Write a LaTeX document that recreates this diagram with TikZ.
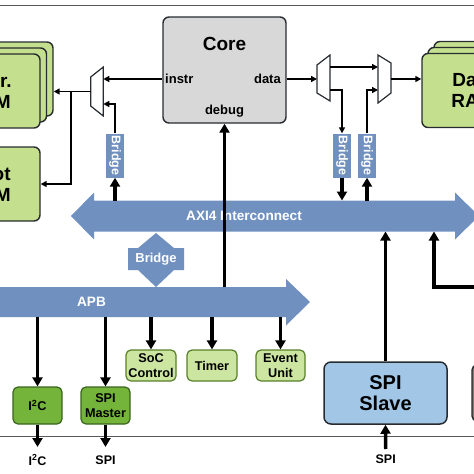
\documentclass[tikz,border=0pt]{standalone}
\usepackage{fontspec}
\setmainfont{Liberation Sans}
\usepackage{graphicx}
\usepackage{tikz}
\usepackage{xcolor}
\usetikzlibrary{positioning, arrows.meta}

\definecolor{busblue}{RGB}{112,144,192}
\definecolor{coregray}{RGB}{216,216,216}
\definecolor{ramgreen}{RGB}{196,224,142}
\definecolor{perigreen}{RGB}{204,229,160}
\definecolor{periedge}{RGB}{88,128,40}
\definecolor{iogreen}{RGB}{116,180,58}
\definecolor{ioedge}{RGB}{58,100,28}
\definecolor{slaveblue}{RGB}{162,199,230}
\definecolor{brownbox}{RGB}{134,116,112}
\definecolor{edge}{RGB}{40,44,48}

\begin{document}
\begin{tikzpicture}[x=1pt, y=-1pt,
        wire/.style={line width=1.5pt, -{Triangle[length=6pt, width=6pt]}},
        bus/.style={line width=3.4pt, -{Triangle[length=9pt, width=10pt]}},
        mux/.style={draw=edge, line width=1.2pt, fill=white},
        ram/.style={draw=edge, line width=1.4pt, fill=ramgreen, rounded corners=6pt, minimum width=102pt, minimum height=74pt, inner sep=0pt, align=center, font=\fontsize{19}{21}\selectfont\bfseries},
        vbridge/.style={fill=busblue, minimum width=18pt, minimum height=44pt, inner sep=0pt, text=white, font=\fontsize{12.5}{14}\selectfont\bfseries},
        port/.style={inner sep=0pt, font=\fontsize{13}{15}\selectfont\bfseries},
        peri/.style={draw=periedge, line width=1.2pt, fill=perigreen, rounded corners=5pt, minimum width=50pt, minimum height=31pt, inner sep=0pt, align=center, font=\fontsize{12.7}{14.5}\selectfont\bfseries},
        io/.style={draw=ioedge, line width=1.2pt, fill=iogreen, rounded corners=5pt, minimum width=49pt, minimum height=37pt, inner sep=0pt, align=center, font=\fontsize{12.7}{14.5}\selectfont\bfseries},
        pinlabel/.style={font=\fontsize{12.5}{14}\selectfont\bfseries},
        buslabel/.style={text=white, font=\fontsize{13.6}{15}\selectfont\bfseries}]
        \useasboundingbox (0,0) rectangle (474,474);

        % frame lines
        \draw[line width=1pt, black!65] (-5,5) -- (480,5)
            (-5,436) -- (480,436);

        % buses
        \fill[busblue] (71,216) -- (94,192.5) -- (94,200.5) -- (455,200.5) -- (455,192.5) -- (479,216)
            -- (455,239.5) -- (455,231.5) -- (94,231.5) -- (94,239.5) -- cycle;
        \fill[busblue] (-5,287) -- (286,287) -- (286,279) -- (310,302) -- (286,325.5) -- (286,317) -- (-5,317) -- cycle;
        \fill[busblue] (156,233) -- (174,248) -- (184,248) -- (184,270) -- (174,270) -- (156,287)
            -- (138,270) -- (128,270) -- (128,248) -- (138,248) -- cycle;
        \node[buslabel] (axi) at (244,216) {AXI4 Interconnect};
        \node[buslabel] (apb) at (91.5,302) {APB};
        \node[buslabel, font=\fontsize{13}{15}\selectfont\bfseries] (abridge) at (156,259) {Bridge};
        \coordinate (axitop) at (0,200.5);
        \coordinate (axibot) at (0,231.5);
        \coordinate (apbtop) at (0,287);
        \coordinate (apbbot) at (0,317);

        % core
        \node[draw=edge, line width=1.4pt, fill=coregray, rounded corners=6pt, minimum width=123pt, minimum height=106pt] (core) at (224.5,70) {};
        \node[font=\fontsize{19}{21}\selectfont\bfseries] (corename) at (224.5,44) {Core};
        \node[port, anchor=west] (instr) at (165,79) {instr};
        \node[port, anchor=east] (data) at (281,79) {data};
        \node[port] (debug) at (224.5,111) {debug};

        % memories
        \node[ram] (iram3) at (2,79) {};
        \node[ram] (iram2) at (-4.5,85) {};
        \node[ram] (iram) at (-11,91) {Instr.\\RAM};
        \node[ram] (bram) at (-11,184) {Boot\\RAM};
        \node[ram] (dram3) at (485,78.5) {};
        \node[ram] (dram2) at (479,84.5) {};
        \node[ram] (dram) at (473,90.5) {Data\\RAM};

        % multiplexers
        \draw[mux] (90.7,77) -- (103.3,67) -- (103.3,116) -- (90.7,106) -- cycle;
        \draw[mux] (317,65) -- (330,55) -- (330,101) -- (317,93) -- cycle;
        \draw[mux] (378,55) -- (391,63) -- (391,93) -- (378,103) -- cycle;
        \coordinate (imuxout) at (90.7,91.5);
        \coordinate (imuxa) at (103.3,79);
        \coordinate (imuxb) at (103.3,104);
        \coordinate (isplit) at (71,91.5);
        \coordinate (dmuxin) at (317,79);
        \coordinate (dmuxa) at (330,67);
        \coordinate (dmuxb) at (330,90);
        \coordinate (omuxa) at (378,67);
        \coordinate (omuxb) at (378,90);
        \coordinate (omuxout) at (391,79);

        % bridges
        \node[vbridge] (ibridge) at (115,155.5) {\rotatebox{-90}{Bridge}};
        \node[vbridge] (dbridge) at (342,155.5) {\rotatebox{-90}{Bridge}};
        \node[vbridge] (rbridge) at (367,155.5) {\rotatebox{-90}{Bridge}};

        % peripherals
        \node[peri] (soc) at (151,365.5) {SoC\\Control};
        \node[peri] (timer) at (212,365.5) {Timer};
        \node[peri, minimum width=49pt] (evu) at (280.5,365.5) {Event\\Unit};
        \node[io] (i2c) at (37.5,405.5) {I\textsuperscript{2}C};
        \node[io] (spim) at (105.5,405.5) {SPI\\Master};
        \node[draw=edge, line width=1.5pt, fill=slaveblue, rounded corners=7pt, minimum width=123pt, minimum height=62pt, align=center, font=\fontsize{20}{21}\selectfont\bfseries] (slave) at (385.5,393) {SPI\\Slave};
        \node[draw=edge, line width=1.4pt, fill=brownbox, rounded corners=5pt, minimum width=56pt, minimum height=56pt] (ext) at (500,393) {};

        % pins
        \coordinate (i2cpin) at (37.5,447);
        \coordinate (spimpin) at (105.5,447);
        \coordinate (spispin) at (385.7,449);
        \node[pinlabel, below=4pt of i2cpin] (i2cname) {I\textsuperscript{2}C};
        \node[pinlabel, below=5pt of spimpin] (spimname) {SPI};
        \node[pinlabel, below=2pt of spispin] (spisname) {SPI};

        % instruction side
        \draw[wire] (core.west |- instr) to (imuxa);
        \draw[wire] (ibridge.north) |- (imuxb);
        \draw[wire] (imuxout) to (iram3.east |- imuxout);
        \draw[wire] (isplit) |- (bram.east);

        % data side
        \draw[wire] (core.east |- data) to (dmuxin);
        \draw[wire] (dmuxa) to (omuxa);
        \draw[wire] (dmuxb) -| (dbridge.north);
        \draw[wire] (rbridge.north) |- (omuxb);
        \draw[wire] (omuxout) to (dram.west |- omuxout);

        % bus links
        \draw[bus] (ibridge |- axitop) to (ibridge.south);
        \draw[bus] (dbridge.south) to (dbridge |- axitop);
        \draw[bus] (rbridge |- axitop) to (rbridge.south);
        \draw[bus] (core.south |- apbtop) to (core.south);
        \draw[bus] (slave.north) to (slave |- axibot);
        \coordinate (extin) at (480,287);
        \coordinate (extturn) at (434,287);
        \draw[bus] (extin) -- (extturn) -- (extturn |- axibot);

        % apb links
        \draw[bus] (i2c |- apbbot) to (i2c.north);
        \draw[bus] (spim |- apbbot) to (spim.north);
        \draw[bus] (soc |- apbbot) to (soc.north);
        \draw[bus] (timer |- apbbot) to (timer.north);
        \draw[bus] (evu |- apbbot) to (evu.north);

        % io pins
        \draw[bus] (i2c.south) to (i2cpin);
        \draw[bus] (spim.south) to (spimpin);
        \draw[bus] (spispin) to (slave.south);
    \end{tikzpicture}
\end{document}
